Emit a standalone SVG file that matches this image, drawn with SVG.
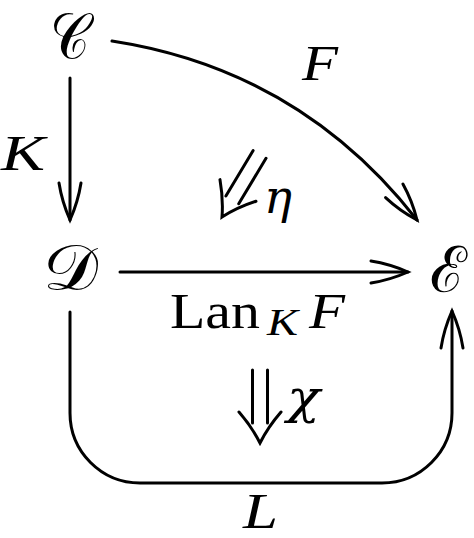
<svg xmlns="http://www.w3.org/2000/svg" width="474" height="538" viewBox="0 0 474 538">
<style>
.bg{fill:#fff}
.ln{fill:none;stroke:#000;stroke-width:3;stroke-linecap:round}
.cal{font-family:"DejaVu Serif","Noto Sans","Liberation Serif",serif;font-size:64px;fill:#000}
.mi{font-family:"Liberation Serif",serif;font-style:italic;font-size:50px;fill:#000}
.gk{font-family:"DejaVu Serif","Liberation Serif",serif;font-style:italic;font-size:46px;fill:#000}
.rm{font-family:"Liberation Serif",serif;font-size:50px;fill:#000}
.sub{font-family:"Liberation Serif",serif;font-style:italic;font-size:38px;fill:#000}
</style>
<defs>
<marker id="ah" markerUnits="userSpaceOnUse" viewBox="-40 -14 44 28" refX="0" refY="0" markerWidth="44" markerHeight="28" orient="auto" overflow="visible">
<path d="M-37,-11 Q-18,-8 0,0 Q-18,8 -37,11" fill="none" stroke="#000" stroke-width="3" stroke-linecap="round"/>
</marker>
<g id="dbl">
<line x1="-7.5" y1="-73" x2="-7.5" y2="-20" class="ln"/>
<line x1="7.5" y1="-73" x2="7.5" y2="-20" class="ln"/>
<path d="M-21,-31 Q-8,-16 0,0 Q8,-16 21,-31" class="ln"/>
</g>
</defs>
<rect class="bg" width="474" height="538"/>
<g id="connectors">
<path id="K-arrow" class="ln" d="M70,78 V220" marker-end="url(#ah)"/>
<path id="F-arrow" class="ln" d="M112,41 Q300,70 417,220" marker-end="url(#ah)"/>
<path id="Lan-arrow" class="ln" d="M120,272 H408" marker-end="url(#ah)"/>
<path id="L-arrow" class="ln" d="M70,312 V413 A70,70 0 0 0 140,483 H382 A70,70 0 0 0 452,413 V311" marker-end="url(#ah)"/>
<use id="eta-arrow" href="#dbl" transform="translate(222,217) rotate(31)"/>
<use id="chi-arrow" href="#dbl" transform="translate(260,443)"/>
</g>
<g id="node-C"><text class="cal" x="50" y="58" font-size="59" textLength="40" lengthAdjust="spacingAndGlyphs">𝒞</text></g>
<g id="node-D"><text class="cal" x="43" y="290" textLength="55" lengthAdjust="spacingAndGlyphs">𝒟</text></g>
<g id="node-E"><text class="cal" x="430" y="292" textLength="37" lengthAdjust="spacingAndGlyphs">ℰ</text></g>
<g id="labels">
<text class="mi" x="1" y="170" textLength="44" lengthAdjust="spacingAndGlyphs">K</text>
<text class="mi" x="302" y="80" textLength="36" lengthAdjust="spacingAndGlyphs">F</text>
<text class="rm" x="170" y="328" textLength="90" lengthAdjust="spacingAndGlyphs">Lan</text>
<text class="sub" x="267" y="335" textLength="31" lengthAdjust="spacingAndGlyphs">K</text>
<text class="mi" x="309" y="328" textLength="36" lengthAdjust="spacingAndGlyphs">F</text>
<text class="gk" x="264" y="213" textLength="28" lengthAdjust="spacingAndGlyphs">η</text>
<text class="gk" x="287" y="413" textLength="33" lengthAdjust="spacingAndGlyphs">χ</text>
<text class="mi" x="243" y="528" font-size="42" textLength="35" lengthAdjust="spacingAndGlyphs">L</text>
</g>
</svg>
